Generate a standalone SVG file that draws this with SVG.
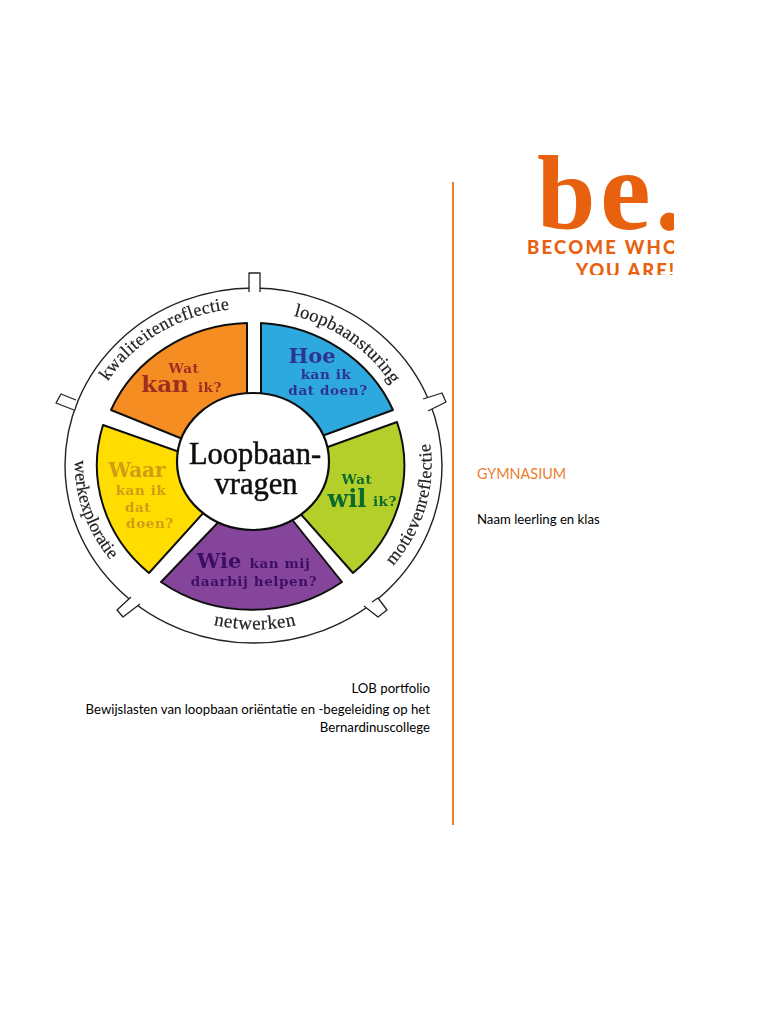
<svg xmlns="http://www.w3.org/2000/svg" width="768" height="1024" viewBox="0 0 768 1024">
<style>
.sec{stroke:#111;stroke-width:2;stroke-linejoin:round}
.tab{fill:#fff;stroke:#222;stroke-width:1.3;stroke-linejoin:round}
.d{font-family:"DejaVu Serif","Liberation Serif",serif;font-weight:700;text-anchor:middle}
.s{font-size:13.500px;letter-spacing:.6px}
.r{font-family:"Liberation Serif",serif;fill:#222;stroke:#222;stroke-width:.2;font-size:18px}
.c{font-family:"Liberation Serif",serif;fill:#111;stroke:#111;stroke-width:.5;font-size:30.500px;text-anchor:middle}
.b{font-family:Lato,"Liberation Sans",sans-serif;font-size:13.200px;fill:#000}
.e{text-anchor:end}
.l{font-family:Lato,"Liberation Sans",sans-serif;font-weight:900;fill:#E8610F;font-size:18.500px}
</style>
<defs>
<clipPath id="logoclip"><rect x="520" y="150" width="154" height="125"/></clipPath>
<filter id="soft" x="-5%" y="-5%" width="110%" height="110%"><feGaussianBlur stdDeviation="0.45"/></filter>
<path id="pk" d="M106 384A168 156 0 0 1 233 309"/>
<path id="pl" d="M291 315A162 155 0 0 1 393 387"/>
<path id="pw" d="M75 458A178 160 0 0 0 112 562"/>
<path id="pn" d="M132 584A178 164 0 0 0 378 584"/>
<path id="pm" d="M393 566A178 162 0 0 0 430 443"/>
</defs>
<rect width="768" height="1024" fill="#fff"/>
<g id="wheel" filter="url(#soft)">
<g id="ring">
<ellipse cx="253.500" cy="465.500" rx="188.500" ry="177.500" fill="#fff" stroke="#222" stroke-width="1.4"/>
<path class="tab" d="M249 292V273H260V292"/>
<path class="tab" d="M76 400L61 394L56 403L74 410"/>
<path class="tab" d="M423 399L442 393L446 402L428 411"/>
<path class="tab" d="M131 597L117 610L123 617L140 604"/>
<path class="tab" d="M372 602L378 598L387 610L378 617L364 606"/>
<text class="r" letter-spacing=".35"><textPath href="#pk" startOffset="50%" text-anchor="middle">kwaliteitenreflectie</textPath></text>
<text class="r" style="font-size:18.500px" letter-spacing=".2"><textPath href="#pl" startOffset="50%" text-anchor="middle">loopbaansturing</textPath></text>
<text class="r"><textPath href="#pw" startOffset="50%" text-anchor="middle">werkexploratie</textPath></text>
<text class="r" style="font-size:19px" letter-spacing=".5"><textPath href="#pn" startOffset="50%" text-anchor="middle">netwerken</textPath></text>
<text class="r" letter-spacing=".35"><textPath href="#pm" startOffset="50%" text-anchor="middle">motievenreflectie</textPath></text>
</g>
<g id="wat-kan-ik">
<path class="sec" fill="#F68D23" d="M247 323V430L205 448L111 410A153 143.500 0 0 1 247 323Z"/>
<text class="d s" x="184" y="373" fill="#9C2F23">Wat</text>
<text class="d" x="165" y="392" font-size="23" fill="#9C2F23">kan</text>
<text class="d s" x="210" y="392" fill="#9C2F23">ik?</text>
</g>
<g id="hoe-kan-ik">
<path class="sec" fill="#2FA9DF" d="M261 323V430L300 444L393 410A153 143.500 0 0 0 261 323Z"/>
<text class="d" x="312" y="363" font-size="21" fill="#2E3192">Hoe</text>
<text class="d s" x="326" y="379" fill="#2E3192">kan ik</text>
<text class="d s" x="328" y="395" fill="#2E3192">dat doen?</text>
</g>
<g id="wat-wil-ik">
<path class="sec" fill="#B5CF2B" d="M397 422A153 143.500 0 0 1 353 573L290 502L300 457Z"/>
<text class="d s" x="357" y="484" fill="#0E6B2E">Wat</text>
<text class="d" x="347" y="507" font-size="24" fill="#0E6B2E">wil</text>
<text class="d s" x="385" y="506" fill="#0E6B2E">ik?</text>
</g>
<g id="wie-kan-mij">
<path class="sec" fill="#85459A" d="M161 582A153 143.500 0 0 0 342 582L282 507L230 510Z"/>
<text class="d" x="219" y="568" font-size="21" fill="#3E1166">Wie</text>
<text class="d s" x="280" y="568" fill="#3E1166">kan mij</text>
<text class="d s" x="254" y="586" fill="#3E1166">daarbij helpen?</text>
</g>
<g id="waar-kan-ik">
<path class="sec" fill="#FFDD00" d="M103 425L205 461L215 500L149 573A153 143.500 0 0 1 103 425Z"/>
<text class="d" x="137" y="477" font-size="20" fill="#D29B14">Waar</text>
<text class="d s" x="141" y="495" fill="#D29B14">kan ik</text>
<text class="d s" x="138" y="512" fill="#D29B14">dat</text>
<text class="d s" x="150" y="528" fill="#D29B14">doen?</text>
</g>
<g id="loopbaanvragen">
<ellipse cx="253" cy="461.500" rx="76" ry="68.500" fill="#fff" stroke="#111" stroke-width="2.200"/>
<text class="c" x="255" y="464">Loopbaan-</text>
<text class="c" x="256" y="494">vragen</text>
</g>
</g>
<g id="connectors"><line x1="453" y1="182" x2="453" y2="825" stroke="#ED7D31" stroke-width="2"/></g>
<g id="logo" clip-path="url(#logoclip)">
<text y="229" font-family="Liberation Serif,serif" font-weight="700" font-size="105" fill="#E8610F"><tspan x="537">b</tspan><tspan x="600" font-size="114">e</tspan><tspan x="655" font-size="115">.</tspan></text>
<text class="l" x="527" y="254" textLength="151" lengthAdjust="spacing">BECOME WHO</text>
<text class="l" x="576" y="277" textLength="98" lengthAdjust="spacing">YOU ARE!</text>
</g>
<g id="title">
<text x="477" y="479" font-family="Lato,Liberation Sans,sans-serif" font-size="14.400" fill="#ED7D31">GYMNASIUM</text>
<text class="b" x="477" y="524">Naam leerling en klas</text>
<text class="b e" x="430" y="693">LOB portfolio</text>
<text class="b e" x="430" y="714">Bewijslasten van loopbaan oriëntatie en -begeleiding op het</text>
<text class="b e" x="430" y="732">Bernardinuscollege</text>
</g>
</svg>
